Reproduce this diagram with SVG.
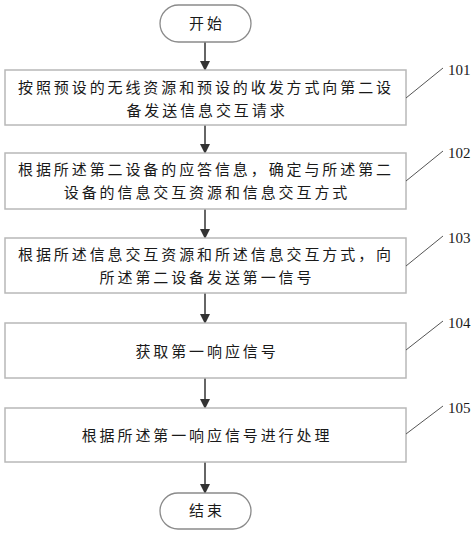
<svg xmlns="http://www.w3.org/2000/svg" width="474" height="534" viewBox="0 0 474 534">
<defs>
<marker id="ah" markerWidth="10" markerHeight="12" refX="9" refY="5" orient="auto" markerUnits="userSpaceOnUse" viewBox="0 0 10 10">
<path d="M0,0 L10,5 L0,10 Z" fill="#333"/>
</marker>
<style>
.box{fill:#fff;stroke:#b8b8b8;stroke-width:1.5}
.term{fill:#fff;stroke:#8a8a8a;stroke-width:1.3}
.t{font-family:"Liberation Serif","Noto Sans CJK SC",serif;font-size:15px;fill:#1a1a1a;text-anchor:middle;letter-spacing:2.9px}
.n{font-family:"Liberation Serif",serif;font-size:15px;fill:#1a1a1a}
.lead{stroke:#555;stroke-width:1;fill:none}
.c{stroke:#333;stroke-width:1.5;fill:none;marker-end:url(#ah)}
</style>
</defs>
<rect width="474" height="534" fill="#fff"/>
<g id="connectors">
<line class="c" x1="205" y1="42" x2="205" y2="70"/>
<line class="c" x1="205" y1="125" x2="205" y2="153"/>
<line class="c" x1="205" y1="209" x2="205" y2="238"/>
<line class="c" x1="205" y1="293" x2="205" y2="323"/>
<line class="c" x1="205" y1="378" x2="205" y2="408"/>
<line class="c" x1="205" y1="462" x2="205" y2="493"/>
</g>
<g id="start">
<rect class="term" x="160" y="5" width="91" height="37" rx="18.5"/>
<text class="t" x="207" y="29">开始</text>
</g>
<g id="step101">
<rect class="box" x="5" y="70" width="401" height="55"/>
<text class="t" x="206" y="93">按照预设的无线资源和预设的收发方式向第二设</text>
<text class="t" x="207" y="116">备发送信息交互请求</text>
<line class="lead" x1="406" y1="98" x2="443" y2="68"/>
<text class="n" x="448" y="75">101</text>
</g>
<g id="step102">
<rect class="box" x="5" y="153" width="401" height="56"/>
<text class="t" x="206" y="175">根据所述第二设备的应答信息，确定与所述第二</text>
<text class="t" x="207" y="198">设备的信息交互资源和信息交互方式</text>
<line class="lead" x1="406" y1="181" x2="443" y2="151"/>
<text class="n" x="448" y="158">102</text>
</g>
<g id="step103">
<rect class="box" x="5" y="238" width="401" height="55"/>
<text class="t" x="206" y="260">根据所述信息交互资源和所述信息交互方式，向</text>
<text class="t" x="207" y="283">所述第二设备发送第一信号</text>
<line class="lead" x1="406" y1="266" x2="443" y2="236"/>
<text class="n" x="448" y="243">103</text>
</g>
<g id="step104">
<rect class="box" x="5" y="323" width="401" height="55"/>
<text class="t" x="207" y="357">获取第一响应信号</text>
<line class="lead" x1="406" y1="350" x2="443" y2="321"/>
<text class="n" x="448" y="328">104</text>
</g>
<g id="step105">
<rect class="box" x="5" y="408" width="401" height="54"/>
<text class="t" x="207" y="441">根据所述第一响应信号进行处理</text>
<line class="lead" x1="406" y1="434" x2="443" y2="406"/>
<text class="n" x="448" y="413">105</text>
</g>
<g id="end">
<rect class="term" x="160" y="493" width="91" height="36" rx="18"/>
<text class="t" x="207" y="516">结束</text>
</g>
</svg>
